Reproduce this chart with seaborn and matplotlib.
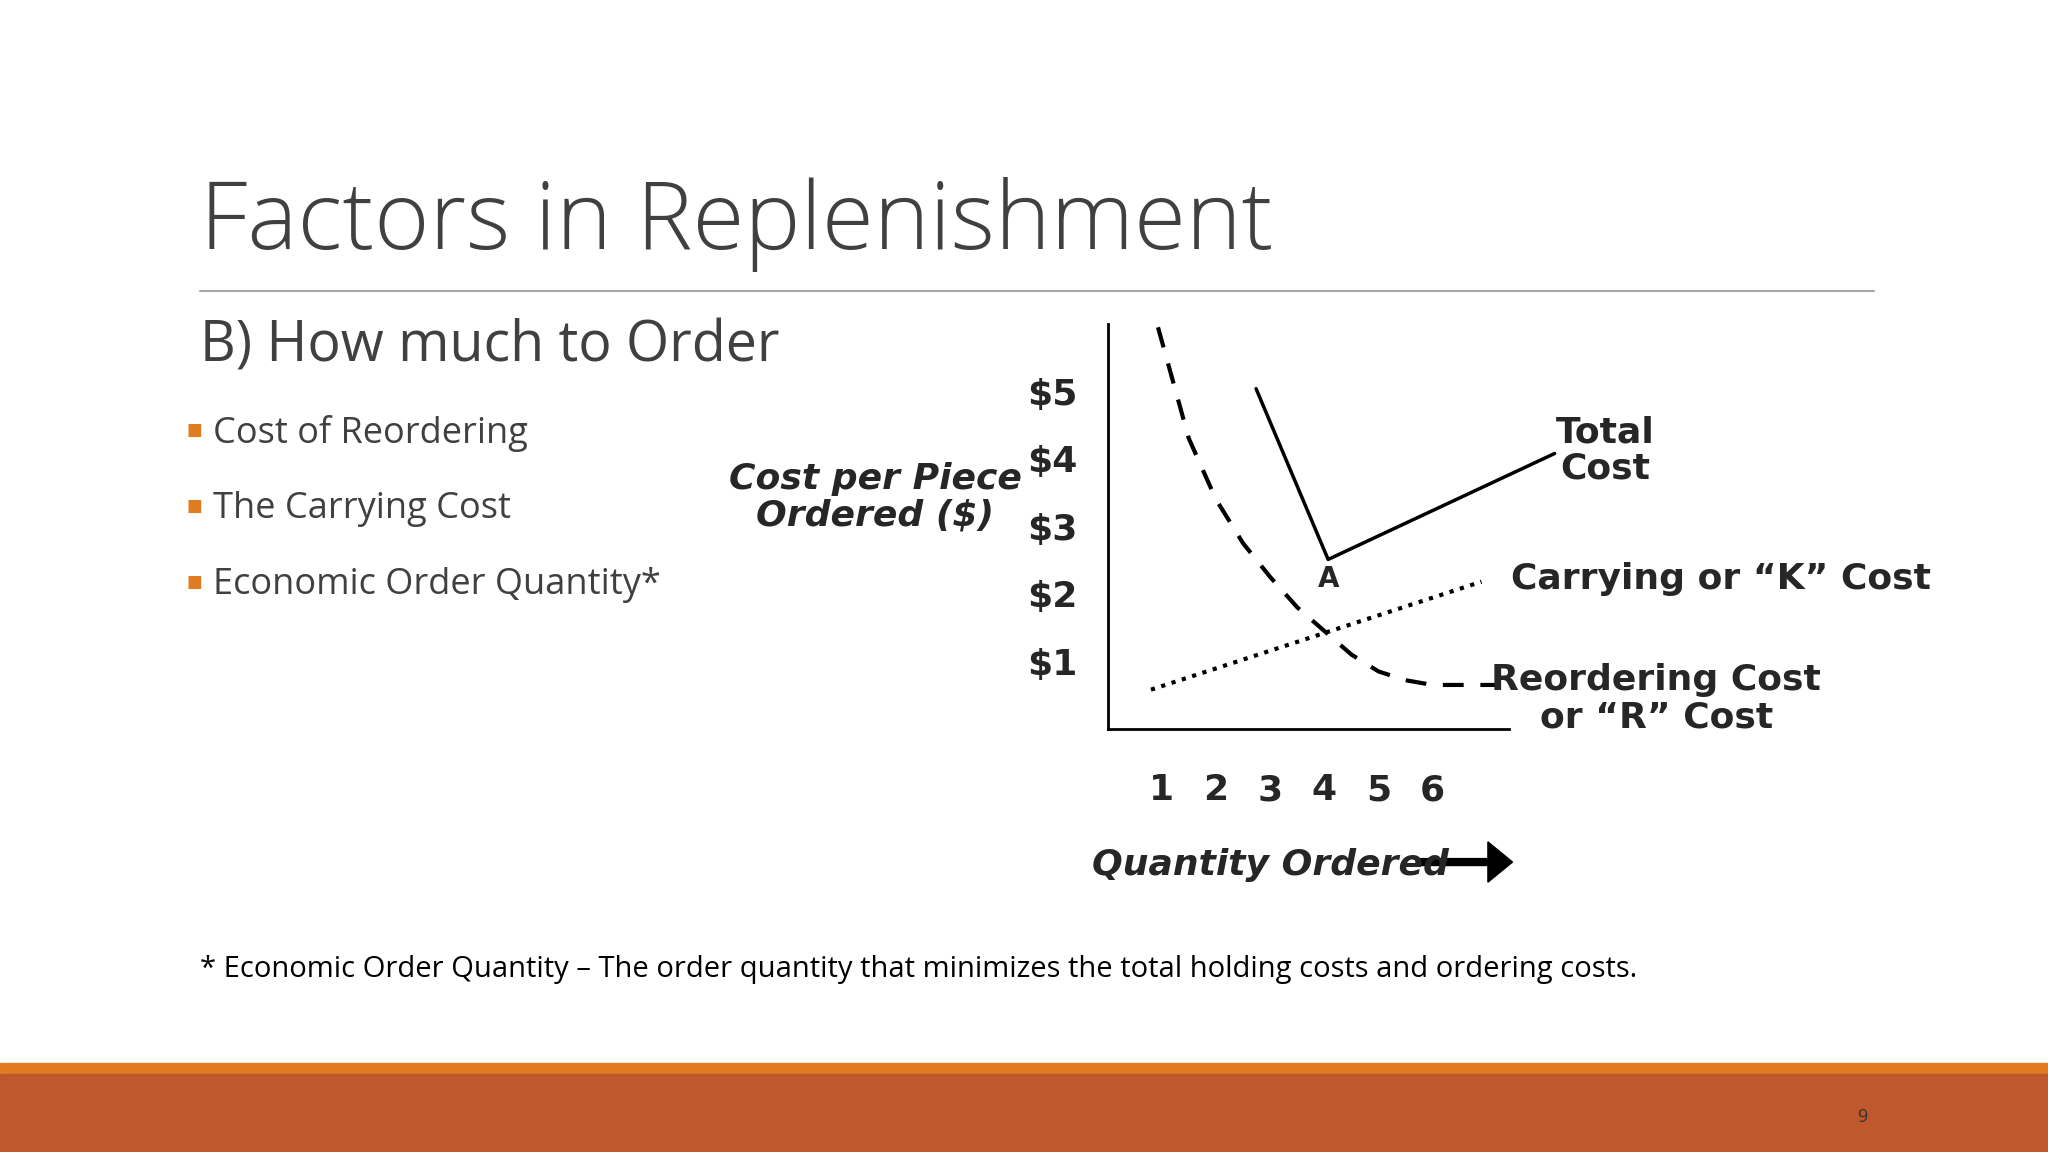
import matplotlib
matplotlib.use("Agg")
import matplotlib.pyplot as plt
import seaborn as sns
import numpy as np

sns.set_style("white")
plt.rcParams['font.family'] = ['Open Sans', 'DejaVu Sans']

# data
reorder_x = [0.93, 1.5, 2.0, 2.5, 3.0, 3.5, 4.0, 4.5, 5.0, 5.5, 6.0, 6.6, 7.25]
reorder_y = [5.95, 4.3, 3.4, 2.75, 2.25, 1.8, 1.45, 1.1, 0.85, 0.72, 0.65, 0.65, 0.65]
carry_x = [0.8, 6.9]
carry_y = [0.58, 2.18]
total_x = [2.74, 4.07, 8.25]
total_y = [5.04, 2.51, 4.08]
xticks = [1, 2, 3, 4, 5, 6]
yticks = [1, 2, 3, 4, 5]
ytick_labels = ["$1", "$2", "$3", "$4", "$5"]
bullets = ["Cost of Reordering", "The Carrying Cost", "Economic Order Quantity*"]

W, H = 1568, 882
fig = plt.figure(figsize=(20.48, 11.52), dpi=100)
fig.patch.set_facecolor("white")

def fx(x): return x / W
def fy(y): return 1 - y / H

# slide decorations
fig.text(fx(153), fy(172), "Factors in Replenishment", fontsize=68, color="#404040",
         va="center", ha="left", family=["Open Sans", "DejaVu Sans"], fontweight="light")
fig.add_artist(plt.Line2D([fx(153), fx(1435)], [fy(223), fy(223)], color="#a6a6a6", lw=1.5))
fig.text(fx(153), fy(266), "B) How much to Order", fontsize=40, color="#404040", va="center")
for i, b in enumerate(bullets):
    yy = 332 + 58 * i
    fig.text(fx(143), fy(yy - 2), "■", fontsize=12, color="#E07B20", va="center")
    fig.text(fx(163), fy(yy), b, fontsize=26, color="#404040", va="center")
fig.text(fx(153), fy(742), "* Economic Order Quantity – The order quantity that minimizes the total holding costs and ordering costs.",
         fontsize=21, color="black", va="center")
fig.add_artist(plt.Rectangle((0, fy(822)), 1, fy(814) - fy(822), color="#E07B20", transform=fig.transFigure))
fig.add_artist(plt.Rectangle((0, 0), 1, fy(822), color="#BF582C", transform=fig.transFigure))
fig.text(fx(1426), fy(855), "9", fontsize=13, color="#333333", ha="center", va="center")

# chart
cf = ["Liberation Sans Narrow", "DejaVu Sans"]
ax = fig.add_axes([fx(848), fy(558), fx(1155) - fx(848), fy(248) - fy(558)])
ax.set_xlim(0, 7.4)
ax.set_ylim(0, 6.0)
sns.lineplot(x=reorder_x, y=reorder_y, ax=ax, color="black", lw=3, linestyle=(0, (5, 4)), clip_on=False)
sns.lineplot(x=carry_x, y=carry_y, ax=ax, color="black", lw=3, linestyle=(0, (1, 1.6)), clip_on=False)
sns.lineplot(x=total_x, y=total_y, ax=ax, color="black", lw=2.5, clip_on=False)
for s in ["top", "right"]:
    ax.spines[s].set_visible(False)
for s in ["left", "bottom"]:
    ax.spines[s].set_color("black"); ax.spines[s].set_linewidth(2)
ax.set_xticks(xticks)
ax.set_xticklabels([str(t) for t in xticks], fontsize=26, fontweight="bold", family=cf)
ax.set_yticks(yticks)
ax.set_yticklabels(ytick_labels, fontsize=26, fontweight="bold", family=cf)
ax.tick_params(axis="x", direction="out", length=18, width=2, pad=14)
ax.tick_params(axis="y", direction="out", length=10, width=2, pad=12)
ax.set_facecolor("white")
ax.text(4.07, 2.22, "A", fontsize=20, fontweight="bold", family=cf, ha="center", va="center")

fig.text(fx(670), fy(381), "Cost per Piece\nOrdered ($)", fontsize=26, fontweight="bold", style="italic",
         family=cf, ha="center", va="center", linespacing=1.1)
fig.text(fx(1229), fy(345), "Total\nCost", fontsize=26, fontweight="bold", family=cf,
         ha="center", va="center", linespacing=1.1)
fig.text(fx(1157), fy(443), "Carrying or “K” Cost", fontsize=26, fontweight="bold", family=cf, ha="left", va="center")
fig.text(fx(1268), fy(535), "Reordering Cost\nor “R” Cost", fontsize=26, fontweight="bold", family=cf,
         ha="center", va="center", linespacing=1.1)
fig.text(fx(973), fy(662), "Quantity Ordered", fontsize=26, fontweight="bold", style="italic",
         family=cf, ha="center", va="center")
fig.add_artist(matplotlib.patches.FancyArrow(fx(1085), fy(660), fx(1158) - fx(1085) - 0.012, 0,
               width=0.006, head_width=0.035, head_length=0.012, color="black",
               transform=fig.transFigure, length_includes_head=False))

fig.savefig("out.png", dpi=100)
